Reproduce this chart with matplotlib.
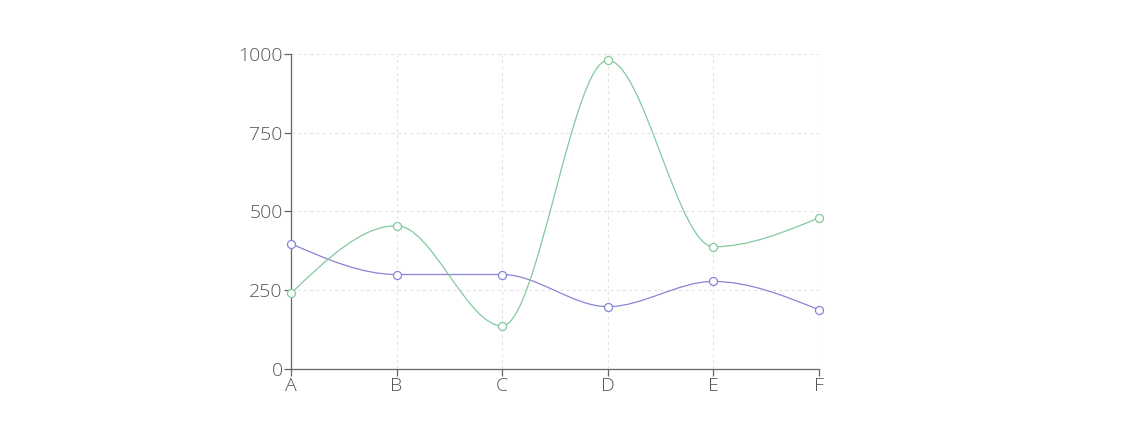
import numpy as np
import matplotlib
matplotlib.use("Agg")
from matplotlib import pyplot as plt
from matplotlib.path import Path
from matplotlib.patches import PathPatch

categories = ["A", "B", "C", "D", "E", "F"]
green_values = [240, 455, 137, 980, 388, 480]
purple_values = [398, 300, 300, 198, 278, 188]
y_ticks = [0, 250, 500, 750, 1000]

GREEN = "#82ca9d"
PURPLE = "#8884d8"
AXIS = "#666666"


def monotone_path(xs, ys):
    """cubic bezier path like d3 curveMonotoneX"""
    xs = np.asarray(xs, float)
    ys = np.asarray(ys, float)
    n = len(xs)
    h = np.diff(xs)
    s = np.diff(ys) / h
    t = np.zeros(n)
    for i in range(1, n - 1):
        p = (s[i - 1] * h[i] + s[i] * h[i - 1]) / (h[i - 1] + h[i])
        t[i] = (np.sign(s[i - 1]) + np.sign(s[i])) * min(abs(s[i - 1]), abs(s[i]), 0.5 * abs(p))
    t[0] = (3 * s[0] - t[1]) / 2
    t[-1] = (3 * s[-1] - t[-2]) / 2
    verts = [(xs[0], ys[0])]
    codes = [Path.MOVETO]
    for i in range(n - 1):
        dx = (xs[i + 1] - xs[i]) / 3
        verts += [(xs[i] + dx, ys[i] + dx * t[i]),
                  (xs[i + 1] - dx, ys[i + 1] - dx * t[i + 1]),
                  (xs[i + 1], ys[i + 1])]
        codes += [Path.CURVE4] * 3
    return Path(verts, codes)


plt.rcParams["font.family"] = ["Open Sans", "DejaVu Sans"]
plt.rcParams["font.weight"] = "light"

fig = plt.figure(figsize=(11.3, 4.24), dpi=100)
ax = fig.add_axes([291 / 1130, 55 / 424, 528 / 1130, 315 / 424])

x = np.arange(len(categories))
for vals, col in [(purple_values, PURPLE), (green_values, GREEN)]:
    ax.add_patch(PathPatch(monotone_path(x, vals), fill=False, edgecolor=col,
                           lw=0.9, clip_on=False, zorder=3))
    ax.plot(x, vals, "o", ms=5.8, mfc="white", mec=col, mew=0.9,
            clip_on=False, zorder=4)

ax.set_xlim(0, len(categories) - 1)
ax.set_ylim(0, 1000)
ax.set_xticks(x)
ax.set_xticklabels(categories)
ax.set_yticks(y_ticks)

ax.grid(True, color="#e2e2e2", ls=(0, (3, 3)), lw=0.75)
ax.set_axisbelow(True)
for side in ["top", "right"]:
    ax.spines[side].set_visible(False)
for side in ["left", "bottom"]:
    ax.spines[side].set_color(AXIS)
    ax.spines[side].set_linewidth(0.9)
ax.tick_params(colors=AXIS, labelcolor="#555555", labelsize=14, length=5, width=0.9, pad=1)

fig.savefig("out.png", dpi=100)
plt.close(fig)
